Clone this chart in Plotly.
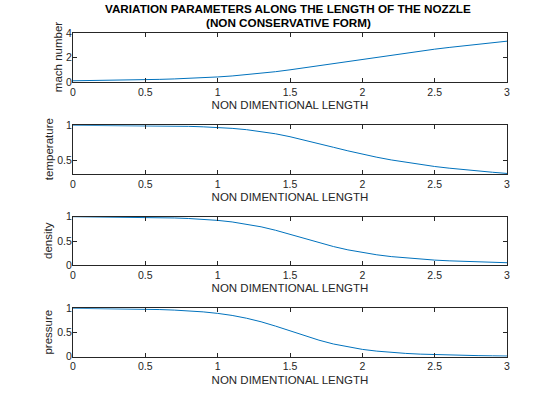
import plotly.graph_objects as go

# grid points along the nozzle (non dimensional length)
x = [0.0, 0.1, 0.2, 0.3, 0.4, 0.5, 0.6, 0.7, 0.8, 0.9, 1.0,
     1.1, 1.2, 1.3, 1.4, 1.5, 1.6, 1.7, 1.8, 1.9, 2.0,
     2.1, 2.2, 2.3, 2.4, 2.5, 2.6, 2.7, 2.8, 2.9, 3.0]

mach = [0.099, 0.112, 0.125, 0.143, 0.163, 0.187, 0.216, 0.252, 0.296, 0.350, 0.416,
        0.496, 0.594, 0.710, 0.846, 1.000, 1.168, 1.345, 1.528, 1.710, 1.890,
        2.065, 2.233, 2.394, 2.549, 2.696, 2.839, 2.972, 3.105, 3.225, 3.353]

temperature = [1.000, 0.999, 0.999, 0.998, 0.997, 0.995, 0.993, 0.989, 0.985, 0.978, 0.969,
               0.956, 0.937, 0.911, 0.878, 0.836, 0.789, 0.737, 0.684, 0.633, 0.585,
               0.541, 0.502, 0.467, 0.436, 0.408, 0.384, 0.362, 0.342, 0.325, 0.308]

density = [1.000, 0.998, 0.997, 0.994, 0.992, 0.987, 0.982, 0.974, 0.963, 0.947, 0.924,
           0.892, 0.849, 0.792, 0.721, 0.639, 0.551, 0.465, 0.386, 0.318, 0.262,
           0.216, 0.179, 0.150, 0.126, 0.107, 0.092, 0.079, 0.069, 0.061, 0.053]

pressure = [1.000, 0.997, 0.996, 0.992, 0.988, 0.982, 0.974, 0.963, 0.948, 0.926, 0.895,
            0.853, 0.795, 0.722, 0.633, 0.534, 0.434, 0.343, 0.264, 0.201, 0.153,
            0.117, 0.090, 0.070, 0.055, 0.044, 0.035, 0.029, 0.024, 0.020, 0.016]

x_ticks = [0, 0.5, 1, 1.5, 2, 2.5, 3]
x_tick_text = ["0", "0.5", "1", "1.5", "2", "2.5", "3"]

panels = [
    ("mach number", mach, [0, 4], [0, 2, 4], ["0", "2", "4"]),
    ("temperature", temperature, [0.3, 1], [0.5, 1], ["0.5", "1"]),
    ("density", density, [0, 1], [0, 0.5, 1], ["0", "0.5", "1"]),
    ("pressure", pressure, [0, 1], [0, 0.5, 1], ["0", "0.5", "1"]),
]

W, H = 560, 420

def px(p):
    return p / W

def py(p):
    return 1 - p / H

# pixel boxes of the 4 axes (top, bottom), matlab subplot(4,1,k) look
boxes = [(33.3, 82.0), (125.3, 174.0), (216.7, 265.3), (308.3, 356.8)]
x_dom = [px(73), px(507)]
ylabel_x = [57.5, 48.5, 48, 48]

ink = "#262626"
fig = go.Figure()
annotations = []

for i, (name, vals, yr, yt, ytt) in enumerate(panels):
    n = "" if i == 0 else str(i + 1)
    fig.add_trace(go.Scatter(x=x, y=vals, mode="lines",
                             line=dict(color="#0072BD", width=1),
                             xaxis="x" + n, yaxis="y" + n, showlegend=False,
                             hoverinfo="skip"))
    top, bot = boxes[i]
    ax = dict(domain=x_dom, range=[0, 3], tickvals=x_ticks, ticktext=x_tick_text,
              ticks="inside", ticklen=4, tickcolor=ink, tickwidth=1,
              showline=True, linecolor=ink, linewidth=1, mirror="ticks",
              showgrid=False, zeroline=False, automargin=False,
              tickfont=dict(family="Liberation Sans", size=10.5, color=ink),
              title=dict(text="NON DIMENTIONAL LENGTH", standoff=4,
                         font=dict(family="Liberation Sans", size=11.5, color=ink)),
              anchor="y" + n)
    ay = dict(domain=[py(bot), py(top)], range=yr, tickvals=yt, ticktext=ytt,
              ticks="inside", ticklen=4, tickcolor=ink, tickwidth=1,
              showline=True, linecolor=ink, linewidth=1, mirror="ticks",
              showgrid=False, zeroline=False, automargin=False,
              ticklabelstandoff=-2,
              tickfont=dict(family="Liberation Sans", size=10.5, color=ink),
              anchor="x" + n)
    fig.update_layout({"xaxis" + n: ax, "yaxis" + n: ay})
    annotations.append(dict(text=name, textangle=-90, xref="paper", yref="paper",
                            x=px(ylabel_x[i]), y=py((top + bot) / 2),
                            xanchor="center", yanchor="middle", showarrow=False,
                            font=dict(family="Liberation Sans", size=11.5, color=ink)))

title_lines = ["VARIATION PARAMETERS ALONG THE LENGTH OF THE NOZZLE",
               "(NON CONSERVATIVE FORM)"]
for line, yc in zip(title_lines, [8.5, 22.5]):
    annotations.append(dict(text="<b>" + line + "</b>", xref="paper", yref="paper",
                            x=px(288), y=py(yc), xanchor="center", yanchor="middle",
                            showarrow=False,
                            font=dict(family="Liberation Sans", size=11.7, color="#000000")))

fig.update_layout(width=W, height=H, margin=dict(l=0, r=0, t=0, b=0),
                  paper_bgcolor="white", plot_bgcolor="white",
                  annotations=annotations)

# drop the default 8px body margin so the figure fills the window
fig.write_html("out.html", config={"displayModeBar": False},
               post_script="document.body.style.margin='0';")
